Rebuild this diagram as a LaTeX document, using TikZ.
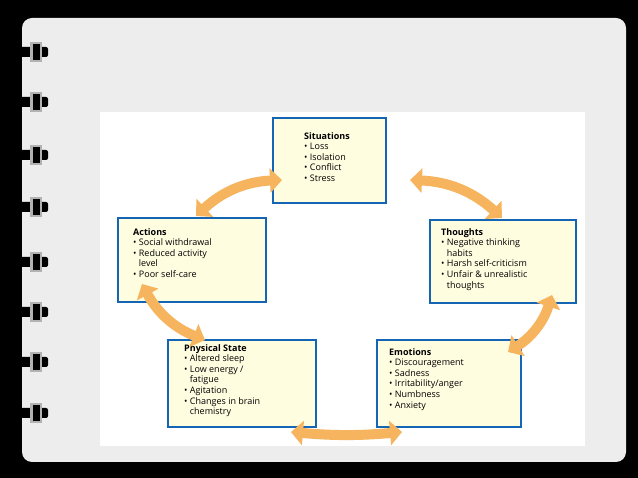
\documentclass[tikz,border=0pt]{standalone}
\usepackage{fontspec}
\setmainfont{Open Sans}
\usetikzlibrary{arrows.meta}
\definecolor{arr}{HTML}{F7B45E}
\definecolor{bx}{HTML}{1565B5}
\begin{document}
\begin{tikzpicture}[x=1pt,y=-1pt,
  box/.style={draw=bx,line width=2.5pt,fill=yellow!12,anchor=north west,inner sep=0pt},
  txt/.style={anchor=north west,align=left,font=\fontsize{9}{10.6}\selectfont,inner sep=0pt},
  cyc/.style={draw=arr,line width=10pt,{Triangle[length=12pt,width=24pt]}-{Triangle[length=12pt,width=24pt]}},
  ring/.style={fill=black,rounded corners=2pt}]
\useasboundingbox (0,0) rectangle (638,478);
\fill[black] (0,0) rectangle (638,478);
\fill[gray!14,rounded corners=10pt] (22,18) rectangle (626,462);
\fill[white] (100,112) rectangle (585,446);
\foreach \y in {52,102,155,207,262,312,362,413}{
  \fill[ring] (4,\y-5) rectangle (48,\y+5);
  \fill[gray!60] (30,\y-10) rectangle (42,\y+10);
  \fill[black] (33,\y-8) rectangle (40,\y+8);
}
\draw[box] (273,118) rectangle (386,203);
\draw[box] (430,220) rectangle (576,303);
\draw[box] (377,340) rectangle (521,427);
\draw[box] (168,340) rectangle (316,427);
\draw[box] (118,218) rectangle (266,302);
\node[txt] (sit) at (304,132) {\textbf{Situations}\\• Loss\\• Isolation\\• Conflict\\• Stress};
\node[txt] (tho) at (441,228) {\textbf{Thoughts}\\• Negative thinking\\\phantom{• }habits\\• Harsh self-criticism\\• Unfair \& unrealistic\\\phantom{• }thoughts};
\node[txt] (emo) at (389,348) {\textbf{Emotions}\\• Discouragement\\• Sadness\\• Irritability/anger\\• Numbness\\• Anxiety};
\node[txt] (phy) at (184,344) {\textbf{Physical State}\\• Altered sleep\\• Low energy /\\\phantom{• }fatigue\\• Agitation\\• Changes in brain\\\phantom{• }chemistry};
\node[txt] (act) at (133,228) {\textbf{Actions}\\• Social withdrawal\\• Reduced activity\\\phantom{• }level\\• Poor self-care};
\coordinate (a1) at (282,180); \coordinate (a2) at (196,216);
\coordinate (b1) at (410,180); \coordinate (b2) at (502,218);
\coordinate (c1) at (552,295); \coordinate (c2) at (508,352);
\coordinate (d1) at (402,432); \coordinate (d2) at (291,432);
\coordinate (e1) at (205,340); \coordinate (e2) at (142,284);
\draw[cyc] (a1) to[bend right=20] (a2);
\draw[cyc] (b1) to[bend left=20] (b2);
\draw[cyc] (c1) to[bend left=20] (c2);
\draw[cyc] (d1) to[bend left=5] (d2);
\draw[cyc] (e1) to[bend left=20] (e2);
\end{tikzpicture}
\end{document}
